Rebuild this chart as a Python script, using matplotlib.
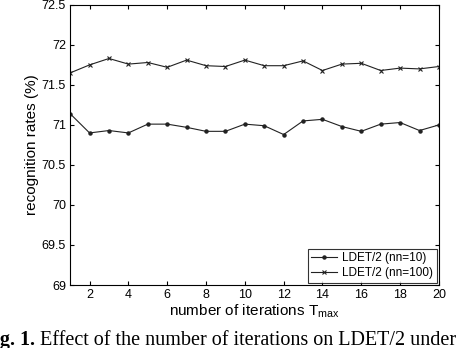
import numpy as np
import matplotlib
matplotlib.use("Agg")
import matplotlib.pyplot as plt

# iterations T_max
iters = np.arange(1, 21)

# recognition rates (%)
rate_nn10 = [71.14, 70.90, 70.93, 70.90, 71.01, 71.01, 70.97, 70.92, 70.92, 71.01,
             70.99, 70.88, 71.05, 71.07, 70.98, 70.92, 71.01, 71.03, 70.93, 71.00]
rate_nn100 = [71.65, 71.75, 71.83, 71.76, 71.78, 71.72, 71.81, 71.74, 71.73, 71.81,
              71.74, 71.74, 71.80, 71.68, 71.76, 71.77, 71.68, 71.71, 71.70, 71.73]

xticks = [2, 4, 6, 8, 10, 12, 14, 16, 18, 20]
yticks = [69, 69.5, 70, 70.5, 71, 71.5, 72, 72.5]
ytick_labels = ["69", "69.5", "70", "70.5", "71", "71.5", "72", "72.5"]

plt.rcParams["font.family"] = ["Liberation Sans", "DejaVu Sans"]

fig = plt.figure(figsize=(4.74, 3.48), dpi=100)
ax = fig.add_axes([0.148, 0.181, 0.778, 0.805])

ax.plot(iters, rate_nn10, color="#222222", linewidth=0.8, marker="o",
        markersize=2.2, label="LDET/2 (nn=10)")
ax.plot(iters, rate_nn100, color="#222222", linewidth=0.8, marker="x",
        markersize=3, markeredgewidth=0.8, label="LDET/2 (nn=100)")

ax.set_xlim(1, 20)
ax.set_ylim(69, 72.5)
ax.set_xticks(xticks)
ax.set_yticks(yticks)
ax.set_yticklabels(ytick_labels)
ax.tick_params(direction="in", length=3, labelsize=9, top=True, right=True,
               labeltop=False, labelright=False, pad=3)
for s in ax.spines.values():
    s.set_linewidth(0.8)

ax.set_xlabel("number of iterations T$_{\\mathregular{max}}$", fontsize=11, labelpad=1)
ax.set_ylabel("recognition rates (%)", fontsize=11, labelpad=2)

leg = ax.legend(loc="lower right", fontsize=8.5, frameon=True, fancybox=False,
                edgecolor="black", borderpad=0.3, handlelength=2.2,
                handletextpad=0.4, borderaxespad=0.2, labelspacing=0.25)
leg.get_frame().set_linewidth(0.8)

# clipped caption below the chart
fig.text(35 / 474, 3 / 348, "Fig. 1.", fontsize=14.5, fontweight="bold",
         family="Liberation Serif", ha="right", va="baseline")
fig.text(40 / 474, 3 / 348, "Effect of the number of iterations on LDET/2 under",
         fontsize=14.5, family="Liberation Serif", ha="left", va="baseline")

fig.savefig("out.png", dpi=100)
